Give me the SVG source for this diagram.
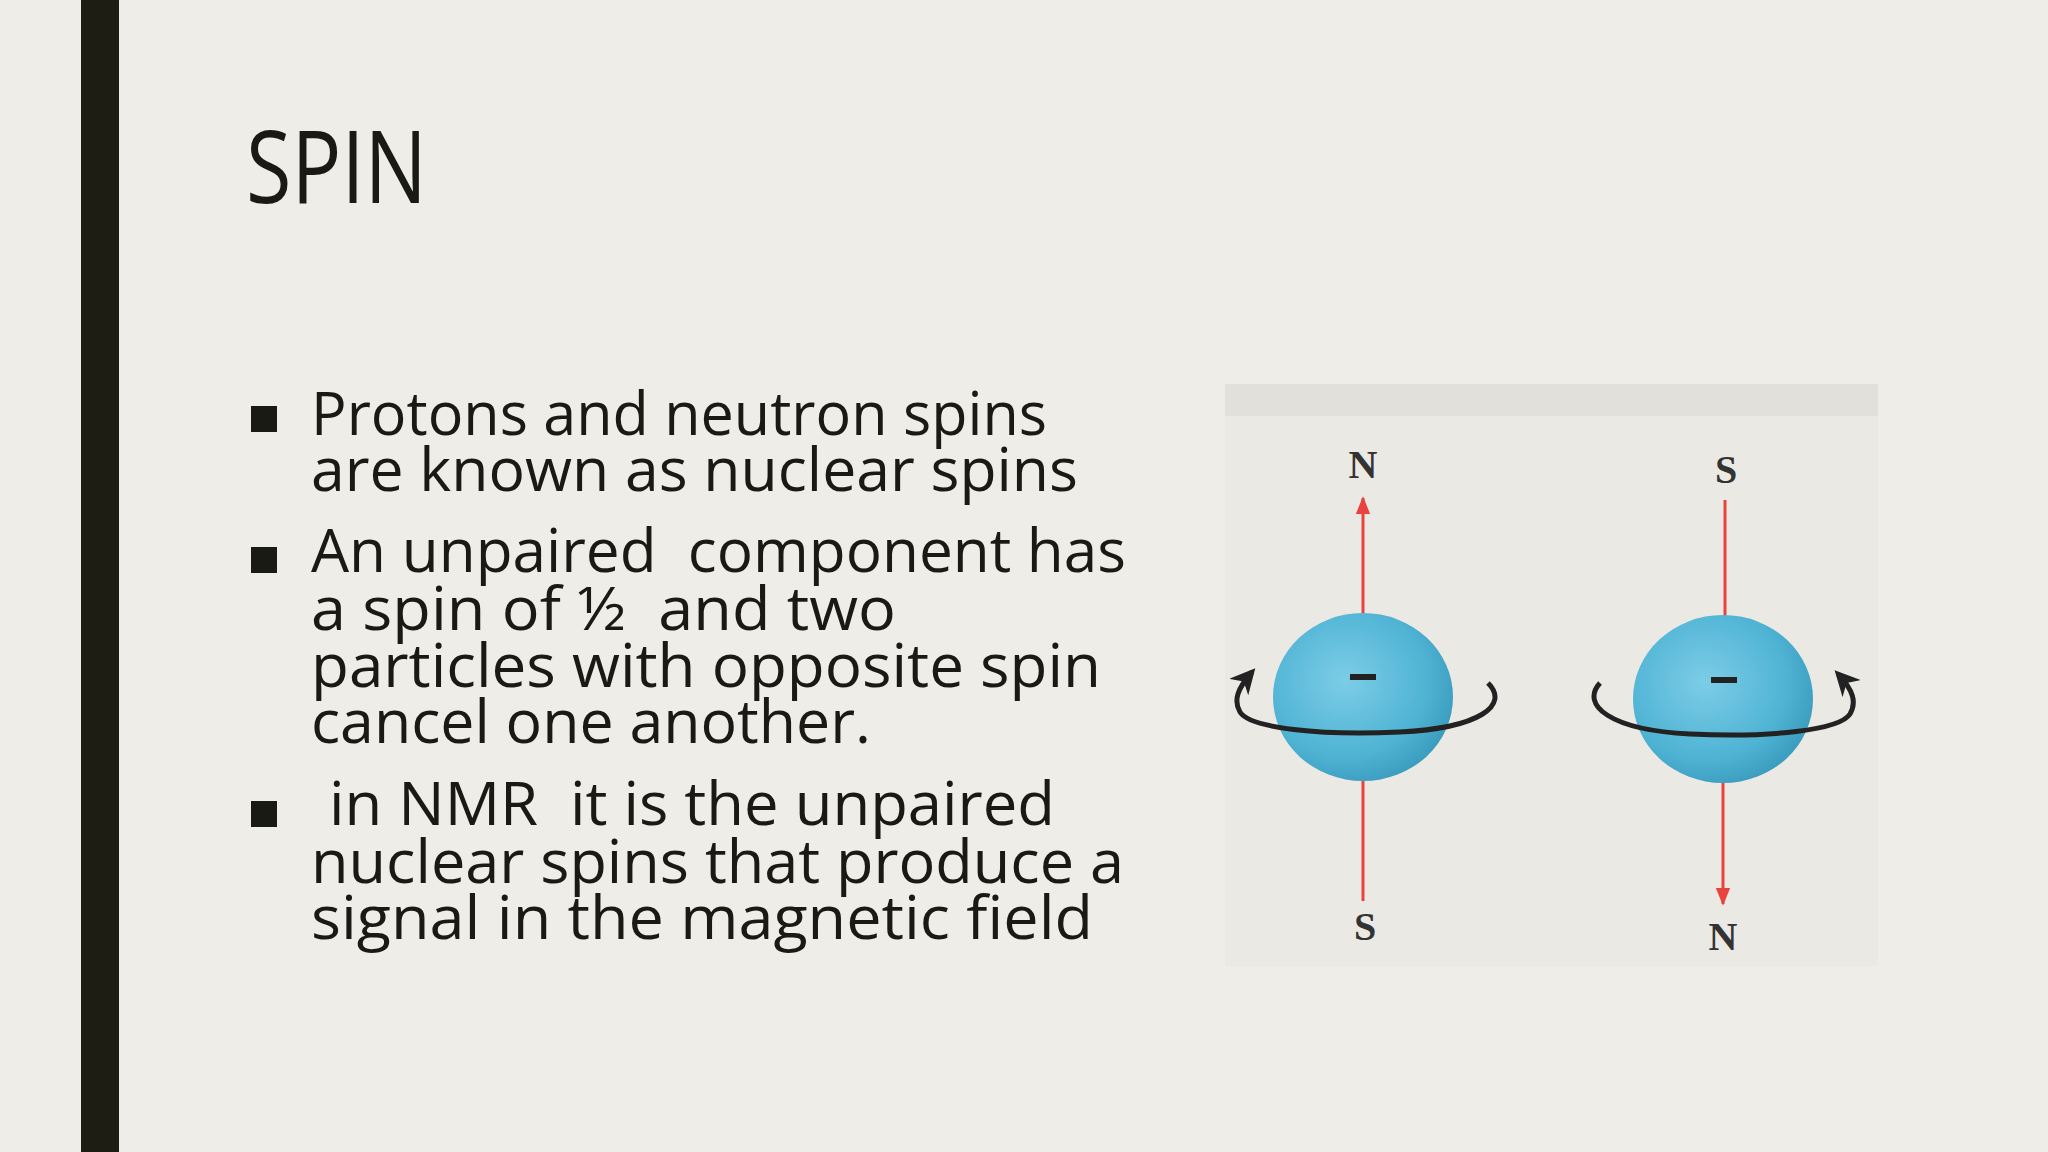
<svg xmlns="http://www.w3.org/2000/svg" width="2048" height="1152" viewBox="0 0 2048 1152">
<defs>
<radialGradient id="sph" cx="0.4" cy="0.4" r="0.65">
<stop offset="0" stop-color="#7ccde6"/><stop offset="0.7" stop-color="#4fb3d4"/><stop offset="1" stop-color="#3a9bbd"/>
</radialGradient>
<marker id="ah" viewBox="0 0 10 10" refX="9" refY="5" markerWidth="6" markerHeight="6" orient="auto"><path d="M0,1 L10,5 L0,9 Z" fill="#e8433c"/></marker>
<marker id="bh" viewBox="0 0 10 10" refX="8" refY="5" markerWidth="5" markerHeight="5" orient="auto"><path d="M0,0 L10,5 L0,10 L3,5 Z" fill="#222"/></marker>
</defs>
<style>
.t{font-family:"Open Sans","Noto Sans",sans-serif;fill:#1a1a14;font-size:60px}
.title{font-size:100px}
.lab{font-family:"Liberation Serif",serif;font-weight:bold;fill:#333;font-size:40px;text-anchor:middle}
.red{stroke:#e8433c;stroke-width:3;fill:none}
.ring{stroke:#222;stroke-width:5;fill:none}
</style>
<rect width="2048" height="1152" fill="#efede7"/>
<rect x="81" y="0" width="38" height="1152" fill="#1d1d14"/>
<g id="title"><text class="t title" x="246" y="203" textLength="181" lengthAdjust="spacingAndGlyphs">SPIN</text></g>
<g id="bullets">
<rect x="251" y="406" width="26" height="26" fill="#1a1a14"/>
<rect x="251" y="547" width="26" height="26" fill="#1a1a14"/>
<rect x="251" y="801" width="26" height="26" fill="#1a1a14"/>
<text class="t" x="311" y="435" textLength="736" lengthAdjust="spacingAndGlyphs">Protons and neutron spins</text>
<text class="t" x="311" y="491" textLength="767" lengthAdjust="spacingAndGlyphs">are known as nuclear spins</text>
<text class="t" x="311" y="572" textLength="815" lengthAdjust="spacingAndGlyphs" xml:space="preserve">An unpaired  component has</text>
<text class="t" x="311" y="630" textLength="585" lengthAdjust="spacingAndGlyphs" xml:space="preserve">a spin of ½  and two</text>
<text class="t" x="311" y="687" textLength="790" lengthAdjust="spacingAndGlyphs">particles with opposite spin</text>
<text class="t" x="311" y="743" textLength="560" lengthAdjust="spacingAndGlyphs">cancel one another.</text>
<text class="t" x="329" y="825" textLength="726" lengthAdjust="spacingAndGlyphs" xml:space="preserve">in NMR  it is the unpaired</text>
<text class="t" x="311" y="883" textLength="813" lengthAdjust="spacingAndGlyphs">nuclear spins that produce a</text>
<text class="t" x="311" y="939" textLength="782" lengthAdjust="spacingAndGlyphs">signal in the magnetic field</text>
</g>
<g id="picture">
<rect x="1225" y="384" width="653" height="582" fill="#ebe9e3"/>
<rect x="1225" y="384" width="653" height="32" fill="#e2e0da"/>
<g id="spinUp">
<line class="red" x1="1363" y1="614" x2="1363" y2="498" marker-end="url(#ah)"/>
<line class="red" x1="1363" y1="780" x2="1363" y2="901"/>
<ellipse cx="1363" cy="697" rx="90" ry="84" fill="url(#sph)"/>
<rect x="1350" y="674" width="26" height="6" fill="#222"/>
<path class="ring" d="M1488,683 C1510,705 1480,728 1400,732 C1320,736 1250,728 1240,712 C1233,700 1238,688 1252,672" marker-end="url(#bh)"/>
<text class="lab" x="1363" y="478">N</text>
<text class="lab" x="1365" y="940">S</text>
</g>
<g id="spinDown">
<line class="red" x1="1725" y1="500" x2="1725" y2="616"/>
<line class="red" x1="1723" y1="782" x2="1723" y2="904" marker-end="url(#ah)"/>
<ellipse cx="1723" cy="699" rx="90" ry="84" fill="url(#sph)"/>
<rect x="1711" y="677" width="26" height="6" fill="#222"/>
<path class="ring" d="M1600,683 C1580,705 1610,730 1690,734 C1770,738 1840,730 1850,714 C1857,702 1853,690 1838,674" marker-end="url(#bh)"/>
<text class="lab" x="1726" y="483">S</text>
<text class="lab" x="1723" y="950">N</text>
</g>
</g>
</svg>
